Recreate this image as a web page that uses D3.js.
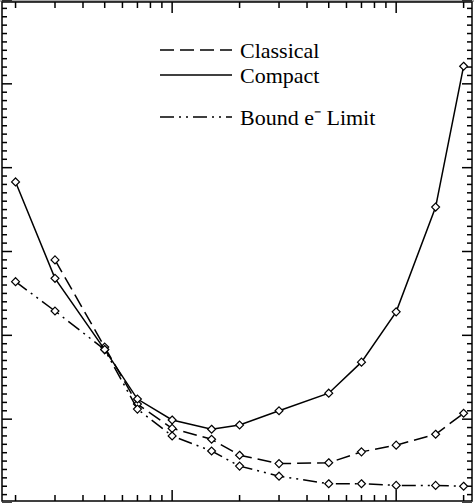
<!DOCTYPE html>
<html><head><meta charset="utf-8">
<script src="https://cdn.jsdelivr.net/npm/d3@7"></script>
<style>body{margin:0;background:#fff}</style>
</head><body>
<script>
// data
const xValues = [2, 3, 5, 7, 10, 15, 20, 30, 50, 70, 100, 150, 200]
const compact = [3.83, 2.68, 1.83, 1.24, 0.99, 0.88, 0.93, 1.10, 1.31, 1.68, 2.28, 3.53, 5.21]
const classical = [null, 2.90, 1.86, 1.18, 0.89, 0.76, 0.57, 0.47, 0.48, 0.61, 0.69, 0.82, 1.07]
const boundLimit = [2.64, 2.29, 1.83, 1.12, 0.80, 0.62, 0.44, 0.32, 0.23, 0.23, 0.21, 0.21, 0.20]
const seriesNames = ["Classical", "Compact", "Bound e\u207B Limit"]

const width = 474, height = 503
const svg = d3.select("body").append("svg")
  .attr("width", width).attr("height", height)

const xScale = d3.scaleLog().domain([1.74, 218]).range([2, 472])
const yScale = d3.scaleLinear().domain([0, 6]).range([503, 0])

// frame
svg.append("rect").attr("x", 0).attr("y", 0).attr("width", width).attr("height", 2).attr("fill", "#aaa")
svg.append("rect").attr("x", 2).attr("y", 2).attr("width", 470).attr("height", 499)
  .attr("fill", "none").attr("stroke", "#000").attr("stroke-width", 1.5)

// x ticks (log, top and bottom, inward)
const xTicks = []
for (let dec of [1, 10, 100]) for (let m = 1; m < 10; m++) {
  const v = dec * m
  if (v >= 1.74 && v <= 218) xTicks.push({ v, major: m === 1 })
}
const tk = svg.append("g").attr("stroke", "#000").attr("stroke-width", 1.5)
tk.selectAll(".xb").data(xTicks).join("line")
  .attr("x1", d => xScale(d.v)).attr("x2", d => xScale(d.v))
  .attr("y1", 501).attr("y2", d => 501 - (d.major ? 11 : 6))
tk.selectAll(".xt").data(xTicks).join("line")
  .attr("x1", d => xScale(d.v)).attr("x2", d => xScale(d.v))
  .attr("y1", 2).attr("y2", d => 2 + (d.major ? 11 : 6))

// y ticks (left and right, inward)
const yTicks = d3.range(0, 61).map(i => ({ v: i / 10, major: i % 10 === 0 }))
tk.selectAll(".yl").data(yTicks).join("line")
  .attr("y1", d => yScale(d.v)).attr("y2", d => yScale(d.v))
  .attr("x1", 2).attr("x2", d => 2 + (d.major ? 10 : 5))
tk.selectAll(".yr").data(yTicks).join("line")
  .attr("y1", d => yScale(d.v)).attr("y2", d => yScale(d.v))
  .attr("x1", 472).attr("x2", d => 472 - (d.major ? 10 : 5))

// series
const series = [
  { name: seriesNames[0], values: classical, dash: "14,6" },
  { name: seriesNames[1], values: compact, dash: null },
  { name: seriesNames[2], values: boundLimit, dash: "14,5,2,5,2,5" },
]
const line = d3.line()
  .defined(d => d[1] != null)
  .x(d => xScale(d[0])).y(d => yScale(d[1]))

const diamond = d3.symbol().type(d3.symbolDiamond2).size(40)

series.forEach(s => {
  const pts = xValues.map((x, i) => [x, s.values[i]]).filter(d => d[1] != null)
  svg.append("path").datum(pts)
    .attr("d", line).attr("fill", "none").attr("stroke", "#000")
    .attr("stroke-width", 1.5).attr("stroke-dasharray", s.dash)
  svg.append("g").selectAll("path").data(pts).join("path")
    .attr("d", diamond)
    .attr("transform", d => `translate(${xScale(d[0])},${yScale(d[1])})`)
    .attr("fill", "#fff").attr("stroke", "#000").attr("stroke-width", 1.2)
})

// legend
const legendY = [50, 75, 117]
const legend = svg.append("g")
series.forEach((s, i) => {
  legend.append("line")
    .attr("x1", 160).attr("x2", 232).attr("y1", legendY[i]).attr("y2", legendY[i])
    .attr("stroke", "#000").attr("stroke-width", 1.5).attr("stroke-dasharray", s.dash)
  legend.append("text")
    .attr("x", 240).attr("y", legendY[i] + 8)
    .attr("font-family", "Liberation Serif, Times New Roman, serif")
    .attr("font-size", 22).text(s.name)
})
</script>
</body></html>
